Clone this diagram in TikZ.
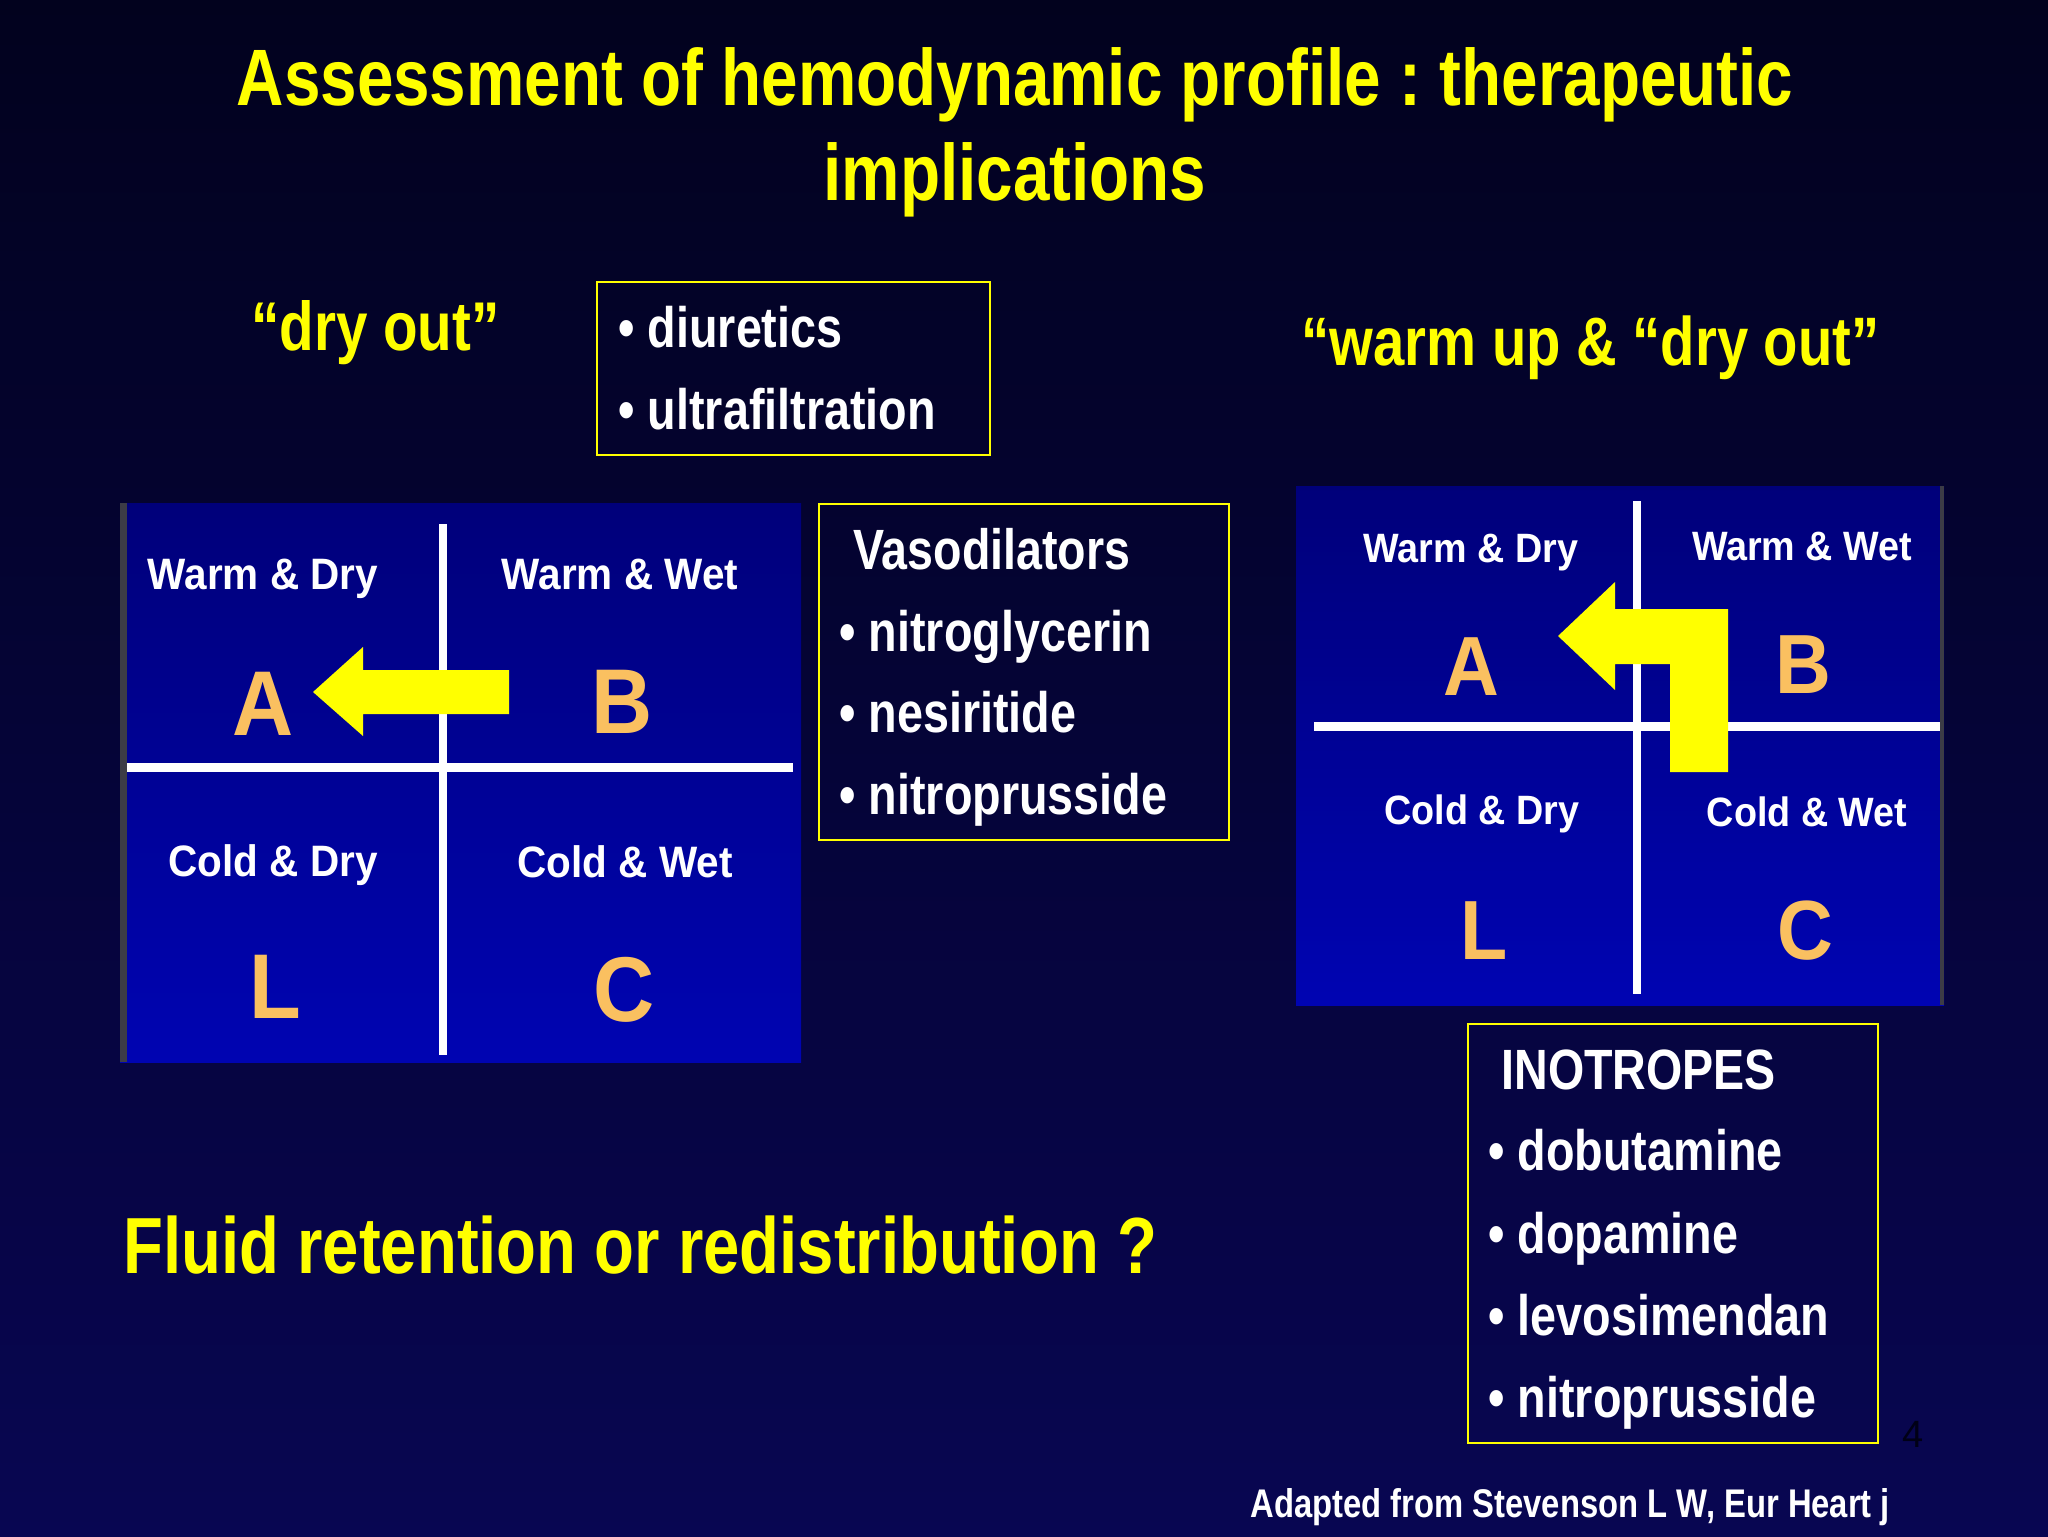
\documentclass[tikz,border=0pt]{standalone}
\usepackage{fontspec}
\usetikzlibrary{fit}
\setmainfont{Liberation Sans}
\newfontfamily\narrowsans{Liberation Sans}[FakeStretch=0.82]
\newfontfamily\gridsans{Liberation Sans}[FakeStretch=0.92]
\newcommand\fsz[1]{\fontsize{#1}{#1}\selectfont}
\frenchspacing
\definecolor{bgtop}{RGB}{2,2,30}
\definecolor{bgbot}{RGB}{8,6,82}
\definecolor{gtop}{RGB}{0,0,122}
\definecolor{gbot}{RGB}{0,4,178}
\definecolor{gridgrey}{RGB}{60,60,70}
\definecolor{ylw}{RGB}{255,255,0}
\definecolor{orng}{RGB}{250,192,96}
\definecolor{pagenum}{RGB}{0,0,22}
\tikzset{
  txt/.style={inner sep=0pt, anchor=base west},
  ctxt/.style={inner sep=0pt, anchor=base},
  ttl/.style={ctxt, text=ylw, font=\narrowsans\bfseries\fsz{40}},
  slogan/.style={txt, text=ylw, font=\narrowsans\bfseries\fsz{34.5}},
  drug/.style={txt, text=white, font=\narrowsans\bfseries\fsz{28.5}},
  drughead/.style={txt, text=white, font=\narrowsans\bfseries\fsz{28.4}},
  drugbox/.style={draw=ylw, line width=1.2pt, inner sep=0pt},
  glabel/.style={ctxt, text=white, font=\gridsans\bfseries\fsz{22}},
  glabelR/.style={ctxt, text=white, font=\gridsans\bfseries\fsz{20.5}},
  gletter/.style={ctxt, text=orng, font=\gridsans\bfseries\fsz{46}},
  gletterR/.style={ctxt, text=orng, font=\gridsans\bfseries\fsz{42}},
  gline/.style={white, line width=4pt},
  blockarrow/.style={fill=ylw, draw=none},
}
\begin{document}
\begin{tikzpicture}[x=0.5pt,y=-0.5pt]
\useasboundingbox (0,0) rectangle (2048,1536);
% background
\shade[top color=bgtop, bottom color=bgbot] (0,0) rectangle (2048,1536);

% title
\node[ttl] (title1) at (1015,105) {Assessment of hemodynamic profile : therapeutic};
\node[ttl] (title2) at (1015,200) {implications};

% dry out
\node[slogan] (dryout) at (251,350) {“dry out”};
\node[drugbox, fit={(597,282) (990,455)}] (box1) {};
\node[drug] (diur) at (618,347) {• diuretics};
\node[drug] (ultra) at (618,429) {• ultrafiltration};

% warm up & dry out
\node[slogan, font=\narrowsans\bfseries\fsz{34.3}] (warmup) at (1301,365) {“warm up \& “dry out”};

% ---------- left grid ----------
\shade[top color=gtop, bottom color=gbot] (120,503) rectangle (801,1062);
\fill[gridgrey] (120,503) rectangle (127,1062);
\draw[gline] (443,524) -- (443,1055);
\draw[gline, line width=4.5pt] (127,767) -- (793,767);
\node[glabel] (lwd) at (263,589) {Warm \& Dry};
\node[glabel] (lww) at (620,589) {Warm \& Wet};
\node[glabel] (lcd) at (273,876) {Cold \& Dry};
\node[glabel] (lcw) at (625,877) {Cold \& Wet};
\node[gletter] (lA) at (263,735) {A};
\node[gletter] (lB) at (622,733) {B};
\node[gletter] (lL) at (275,1018) {L};
\node[gletter] (lC) at (624,1021) {C};
\fill[blockarrow] (313,692) -- (363,647) -- (363,670) -- (509,670) -- (509,714)
  -- (363,714) -- (363,736) -- cycle;

% vasodilators
\node[drugbox, fit={(819,504) (1229,840)}] (vasobox) {};
\node[drughead] (vasohead) at (853,569) {Vasodilators};
\node[drug] (nitrog) at (839,651) {• nitroglycerin};
\node[drug] (nesir) at (839,732) {• nesiritide};
\node[drug] (nitrop1) at (839,814) {• nitroprusside};

% ---------- right grid ----------
\shade[top color=gtop, bottom color=gbot] (1296,486) rectangle (1944,1005);
\fill[gridgrey] (1940,486) rectangle (1944,1005);
\draw[gline] (1637,501) -- (1637,994);
\draw[gline, line width=4.5pt] (1314,726) -- (1940,726);
\node[glabelR] (rwd) at (1471,562) {Warm \& Dry};
\node[glabelR] (rww) at (1802,560) {Warm \& Wet};
\node[glabelR] (rcd) at (1482,824) {Cold \& Dry};
\node[glabelR] (rcw) at (1807,826) {Cold \& Wet};
\node[gletterR] (rA) at (1471,695) {A};
\node[gletterR] (rB) at (1803,693) {B};
\node[gletterR] (rL) at (1484,959) {L};
\node[gletterR] (rC) at (1805,959) {C};
\fill[blockarrow] (1558,636) -- (1615,582) -- (1615,609) -- (1728,609) -- (1728,772)
  -- (1670,772) -- (1670,664) -- (1615,664) -- (1615,690) -- cycle;

% inotropes
\node[drugbox, fit={(1468,1024) (1878,1443)}] (inobox) {};
\node[drughead] (inohead) at (1501,1089) {INOTROPES};
\node[drug] (dobu) at (1488,1170) {• dobutamine};
\node[drug] (dopa) at (1488,1253) {• dopamine};
\node[drug] (levo) at (1488,1335) {• levosimendan};
\node[drug] (nitrop2) at (1488,1417) {• nitroprusside};

% bottom texts
\node[txt, text=ylw, font=\narrowsans\bfseries\fsz{39.8}] (fluid) at (123,1273) {Fluid retention or redistribution ?};
\node[txt, text=white, font=\narrowsans\bfseries\fsz{20}] (source) at (1250,1517) {Adapted from Stevenson L W, Eur Heart j};
\node[txt, text=pagenum, font=\fsz{19}] (pnum) at (1902,1447) {4};
\end{tikzpicture}
\end{document}
